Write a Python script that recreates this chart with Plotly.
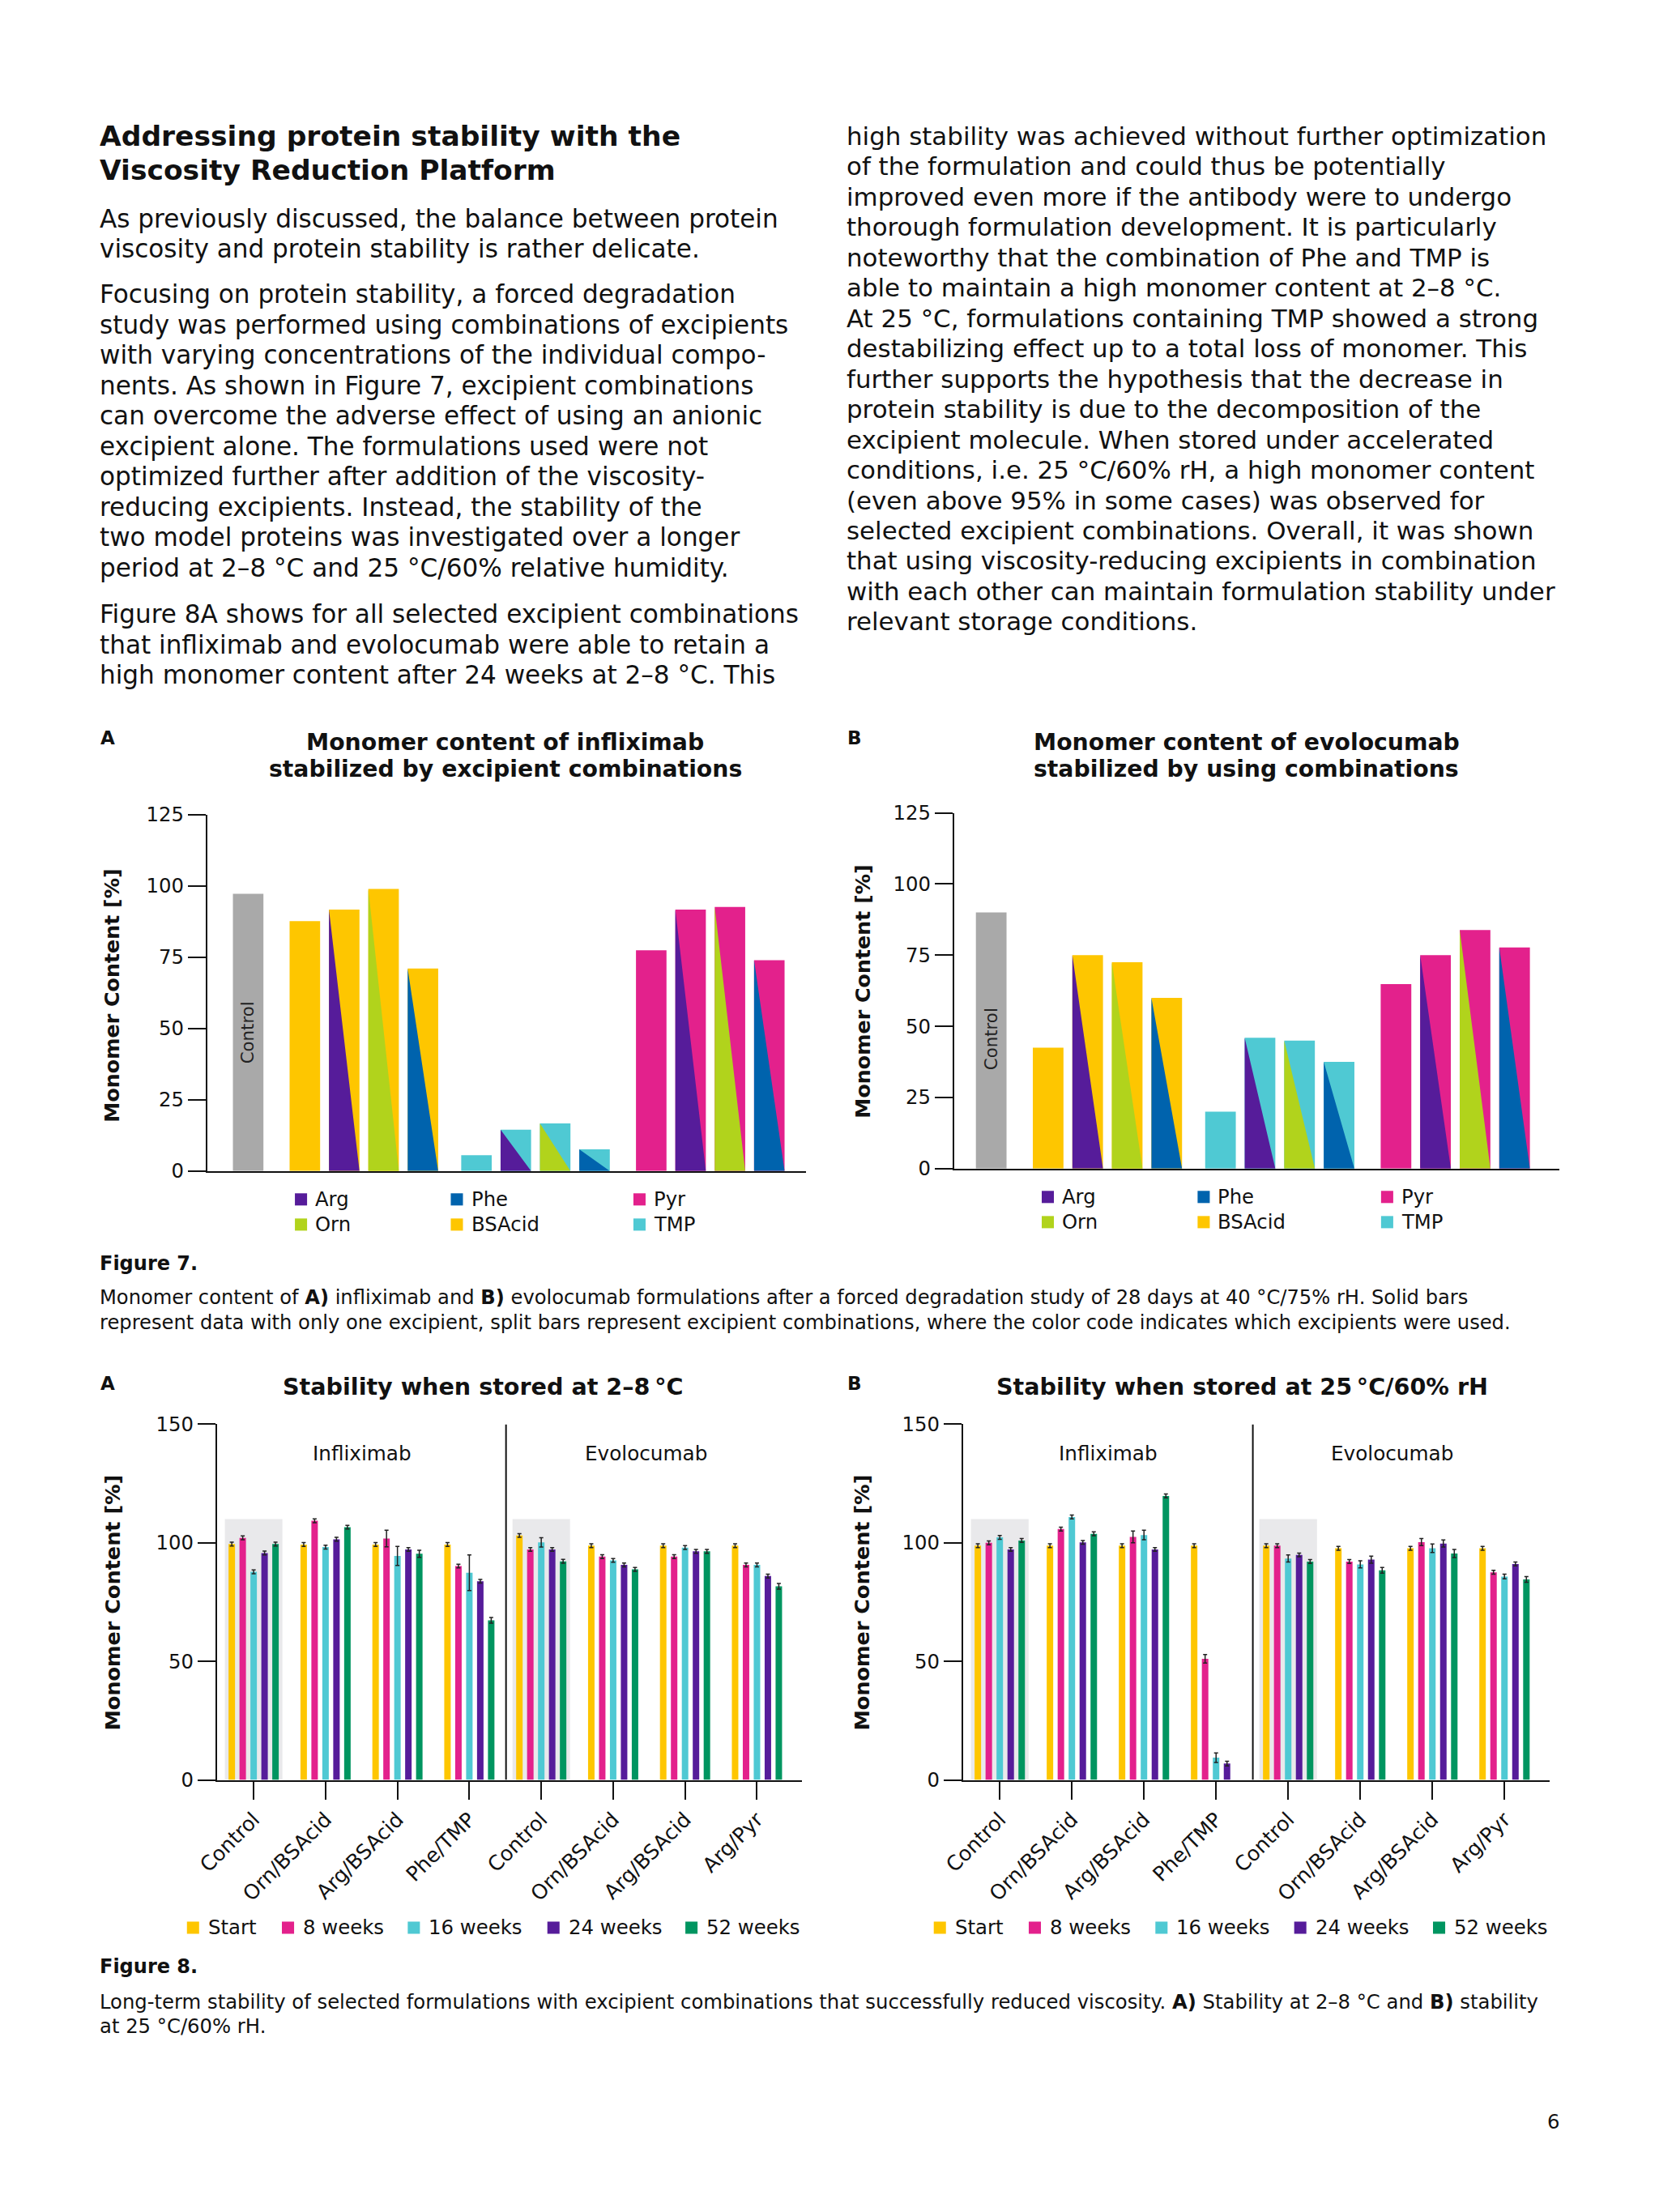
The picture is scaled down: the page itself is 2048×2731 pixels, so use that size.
import plotly.graph_objects as go

W, H = 2048, 2731
FONT = "DejaVu Sans"
INK = "#111111"


# page coordinates (px) -> paper fractions
def X(px):
    return 1.015 * px - 23


def Y(py):
    return 1.0132 * py - 18


def fx(px):
    return X(px) / W


def fy(py):
    return 1 - Y(py) / H


# ---------------- data ----------------
excipient_colors = {
    "Arg": "#561c9a",
    "Orn": "#b1d31c",
    "Phe": "#0063ad",
    "BSAcid": "#fec600",
    "Pyr": "#e3218c",
    "TMP": "#4fc9d3",
    "Control": "#a9a9a9",
}

fig7_labels = ["Control", "BSAcid", "Arg/BSAcid", "Orn/BSAcid", "Phe/BSAcid",
               "TMP", "Arg/TMP", "Orn/TMP", "Phe/TMP",
               "Pyr", "Arg/Pyr", "Orn/Pyr", "Phe/Pyr"]
fig7_group = [0, 1, 1, 1, 1, 2, 2, 2, 2, 3, 3, 3, 3]
infliximab_forced = [97.2, 87.6, 91.7, 98.9, 71.0, 5.5, 14.5, 16.7, 7.6, 77.4, 91.7, 92.6, 73.9]
evolocumab_forced = [90.0, 42.5, 75.0, 72.5, 60.0, 20.0, 46.0, 45.0, 37.5, 64.8, 75.0, 83.8, 77.7]
legend7_cols = [["Arg", "Orn"], ["Phe", "BSAcid"], ["Pyr", "TMP"]]
yticks7 = [0, 25, 50, 75, 100, 125]

groups8 = ["Control", "Orn/BSAcid", "Arg/BSAcid", "Phe/TMP",
           "Control", "Orn/BSAcid", "Arg/BSAcid", "Arg/Pyr"]
timepoints = ["Start", "8 weeks", "16 weeks", "24 weeks", "52 weeks"]
time_colors = ["#fec600", "#e3218c", "#4fc9d3", "#561c9a", "#009560"]
panels8 = ["Infliximab", "Evolocumab"]
yticks8 = [0, 50, 100, 150]

# storage at 2-8 °C
start_2_8 = [99.5, 99.3, 99.3, 99.3, 103.1, 98.8, 98.8, 98.8]
w8_2_8 = [102.1, 109.3, 101.8, 90.2, 97.2, 94.2, 94.2, 90.7]
w16_2_8 = [87.8, 98.2, 94.5, 87.4, 100.2, 92.6, 98.0, 90.7]
w24_2_8 = [95.7, 101.5, 97.2, 83.8, 97.2, 90.7, 96.4, 86.0]
w52_2_8 = [99.5, 106.6, 95.4, 67.3, 92.2, 88.8, 96.4, 81.7]
err_start_2_8 = [0.8, 0.8, 0.8, 0.8, 0.8, 0.8, 0.8, 0.8]
err_w8_2_8 = [0.8, 0.8, 3.5, 0.8, 0.8, 0.8, 0.8, 0.8]
err_w16_2_8 = [0.8, 0.8, 4.0, 7.5, 2.0, 0.8, 0.8, 0.8]
err_w24_2_8 = [0.8, 0.8, 0.8, 0.8, 0.8, 0.8, 0.8, 0.8]
err_w52_2_8 = [0.8, 0.8, 1.5, 1.2, 0.8, 0.8, 0.8, 1.2]

# storage at 25 °C / 60 % rH
start_25 = [98.8, 98.8, 98.8, 98.8, 98.8, 97.7, 97.7, 97.7]
w8_25 = [100.0, 105.8, 102.5, 51.1, 98.8, 92.1, 100.3, 87.6]
w16_25 = [102.3, 110.9, 103.3, 9.4, 93.4, 90.9, 97.7, 85.8]
w24_25 = [97.2, 100.2, 97.2, 6.9, 94.9, 92.9, 99.7, 91.1]
w52_25 = [101.0, 103.8, 119.8, None, 92.1, 88.4, 95.5, 84.6]
err_start_25 = [0.8, 0.8, 0.8, 0.8, 0.8, 0.8, 0.8, 0.8]
err_w8_25 = [0.8, 0.8, 2.5, 1.8, 0.8, 0.8, 1.5, 0.8]
err_w16_25 = [0.8, 0.8, 2.0, 2.0, 1.5, 1.5, 1.8, 1.0]
err_w24_25 = [0.8, 0.8, 0.8, 1.0, 0.8, 1.5, 1.5, 0.8]
err_w52_25 = [0.8, 0.8, 0.8, 0.0, 0.8, 1.2, 1.7, 1.2]

# ---------------- text ----------------
heading = ["Addressing protein stability with the", "Viscosity Reduction Platform"]
para1 = ["As previously discussed, the balance between protein",
         "viscosity and protein stability is rather delicate."]
para2 = ["Focusing on protein stability, a forced degradation",
         "study was performed using combinations of excipients",
         "with varying concentrations of the individual compo-",
         "nents. As shown in Figure 7, excipient combinations",
         "can overcome the adverse effect of using an anionic",
         "excipient alone. The formulations used were not",
         "optimized further after addition of the viscosity-",
         "reducing excipients. Instead, the stability of the",
         "two model proteins was investigated over a longer",
         "period at 2–8 °C and 25 °C/60% relative humidity."]
para3 = ["Figure 8A shows for all selected excipient combinations",
         "that infliximab and evolocumab were able to retain a",
         "high monomer content after 24 weeks at 2–8 °C. This"]
right_col = ["high stability was achieved without further optimization",
             "of the formulation and could thus be potentially",
             "improved even more if the antibody were to undergo",
             "thorough formulation development. It is particularly",
             "noteworthy that the combination of Phe and TMP is",
             "able to maintain a high monomer content at 2–8 °C.",
             "At 25 °C, formulations containing TMP showed a strong",
             "destabilizing effect up to a total loss of monomer. This",
             "further supports the hypothesis that the decrease in",
             "protein stability is due to the decomposition of the",
             "excipient molecule. When stored under accelerated",
             "conditions, i.e. 25 °C/60% rH, a high monomer content",
             "(even above 95% in some cases) was observed for",
             "selected excipient combinations. Overall, it was shown",
             "that using viscosity-reducing excipients in combination",
             "with each other can maintain formulation stability under",
             "relevant storage conditions."]
cap7 = ["Monomer content of <b>A)</b> infliximab and <b>B)</b> evolocumab formulations after a forced degradation study of 28 days at 40 °C/75% rH. Solid bars",
        "represent data with only one excipient, split bars represent excipient combinations, where the color code indicates which excipients were used."]
cap8 = ["Long-term stability of selected formulations with excipient combinations that successfully reduced viscosity. <b>A)</b> Stability at 2–8 °C and <b>B)</b> stability",
        "at 25 °C/60% rH."]

fig = go.Figure()
annotations = []
shapes = []


def text(px, py, s, size, bold=False, xanchor="left", angle=0, color=INK):
    annotations.append(dict(
        x=fx(px), y=fy(py), xref="paper", yref="paper", text=f"<b>{s}</b>" if bold else s,
        showarrow=False, xanchor=xanchor, yanchor="middle", textangle=angle,
        font=dict(family=FONT, size=size, color=color)))


# body text
LS = 37.4
BODY = 31.1
LX, RX = 117, 1038
for i, s in enumerate(heading):
    text(LX, 171 + i * 42, s, 34.5, bold=True)
for i, s in enumerate(para1):
    text(LX, 273 + i * LS, s, BODY)
for i, s in enumerate(para2):
    text(LX, 366 + i * LS, s, BODY)
for i, s in enumerate(para3):
    text(LX, 760 + i * LS, s, BODY)
for i, s in enumerate(right_col):
    text(RX, 171 + i * LS, s, 30.9)

# ---------------- Figure 7 ----------------
group_start7 = [0.0, 1.44, 5.80, 10.24]
BW7 = 0.775
pos7 = []
for i, g in enumerate(fig7_group):
    first = fig7_group.index(g)
    pos7.append(group_start7[g] + (i - first))

panels7 = [
    dict(vals=infliximab_forced, xa="x", ya="y", xdom=(252, 990), ydom=(1446, 1007),
         xr=[-1.04, 14.18], title=["Monomer content of infliximab", "stabilized by excipient combinations"],
         tx=619, letter="A", lx=118, ytx=135, yty=1230, ctrl_y=48.5,
         leg_sq=[360, 552, 777], leg_y=[1481, 1512]),
    dict(vals=evolocumab_forced, xa="x2", ya="y2", xdom=(1172, 1918), ydom=(1443, 1005),
         xr=[-0.94, 14.38], title=["Monomer content of evolocumab", "stabilized by using combinations"],
         tx=1532, letter="B", lx=1039, ytx=1060, yty=1225, ctrl_y=45.6,
         leg_sq=[1280, 1472, 1698], leg_y=[1478, 1509]),
]

for p in panels7:
    top_colors, tri = [], {}
    for lab, x, v in zip(fig7_labels, pos7, p["vals"]):
        parts = lab.split("/")
        top_colors.append(excipient_colors[parts[-1]])
        if len(parts) == 2:
            c = excipient_colors[parts[0]]
            xs, ys = tri.setdefault(c, ([], []))
            xs += [x - BW7 / 2, x - BW7 / 2, x + BW7 / 2, x - BW7 / 2, None]
            ys += [0, v, 0, 0, None]
    fig.add_trace(go.Bar(x=pos7, y=p["vals"], width=BW7, marker=dict(color=top_colors, line=dict(width=0)),
                         xaxis=p["xa"], yaxis=p["ya"], showlegend=False, hoverinfo="skip"))
    for c, (xs, ys) in tri.items():
        fig.add_trace(go.Scatter(x=xs, y=ys, mode="lines", fill="toself", fillcolor=c,
                                 line=dict(width=0, color=c), xaxis=p["xa"], yaxis=p["ya"],
                                 showlegend=False, hoverinfo="skip"))
    text(p["tx"], 918, p["title"][0], 28.3, bold=True, xanchor="center")
    text(p["tx"], 951, p["title"][1], 28.3, bold=True, xanchor="center")
    text(p["lx"], 913, p["letter"], 23, bold=True)
    text(p["ytx"], p["yty"], "Monomer Content [%]", 25.3, bold=True, xanchor="center", angle=-90)
    annotations.append(dict(x=pos7[0], y=p["ctrl_y"], xref=p["xa"], yref=p["ya"], text="Control",
                            showarrow=False, textangle=-90, xanchor="center", yanchor="middle",
                            font=dict(family=FONT, size=21.3, color="#222222")))
    for col, sqx in zip(legend7_cols, p["leg_sq"]):
        for name, ly in zip(col, p["leg_y"]):
            shapes.append(dict(type="rect", xref="paper", yref="paper",
                               x0=fx(sqx), x1=fx(sqx + 15), y0=fy(ly + 7.5), y1=fy(ly - 7.5),
                               fillcolor=excipient_colors[name], line=dict(width=0)))
            text(sqx + 23, ly, name, 24.3)

# ---------------- Figure 8 ----------------
OFF8 = 0.152
BW8 = 0.09
x8 = list(range(len(groups8)))
series_2_8 = [start_2_8, w8_2_8, w16_2_8, w24_2_8, w52_2_8]
errs_2_8 = [err_start_2_8, err_w8_2_8, err_w16_2_8, err_w24_2_8, err_w52_2_8]
series_25 = [start_25, w8_25, w16_25, w24_25, w52_25]
errs_25 = [err_start_25, err_w8_25, err_w16_25, err_w24_25, err_w52_25]

panels8_cfg = [
    dict(series=series_2_8, errs=errs_2_8, xa="x3", ya="y3", xdom=(264, 985),
         title="Stability when stored at 2–8\u2009°C", tx=591, letter="A", lx=118, ytx=135,
         hx=[443, 793], leg=[227, 344, 499, 671, 841]),
    dict(series=series_25, errs=errs_25, xa="x4", ya="y4", xdom=(1183, 1906),
         title="Stability when stored at 25\u2009°C/60% rH", tx=1527, letter="B", lx=1039, ytx=1058,
         hx=[1362, 1712], leg=[1147, 1264, 1420, 1591, 1762]),
]
YD8 = (2196, 1758)

for p in panels8_cfg:
    for box in ([-0.4, 0.4], [3.6, 4.4]):
        shapes.append(dict(type="rect", xref=p["xa"], yref=p["ya"], x0=box[0], x1=box[1], y0=0, y1=110,
                           fillcolor="#e9e9eb", line=dict(width=0), layer="below"))
    shapes.append(dict(type="line", xref=p["xa"], yref=p["ya"], x0=3.51, x1=3.51, y0=0, y1=150,
                       line=dict(color="#111111", width=2)))
    for j, (tp, vals, err) in enumerate(zip(timepoints, p["series"], p["errs"])):
        fig.add_trace(go.Bar(
            x=[g + (j - 2) * OFF8 for g in x8], y=vals, width=BW8,
            marker=dict(color=time_colors[j], line=dict(width=0)),
            error_y=dict(type="data", array=err, visible=True, color="#222222", thickness=1.5, width=2.5),
            xaxis=p["xa"], yaxis=p["ya"], showlegend=False, hoverinfo="skip", name=tp))
    text(p["tx"], 1712, p["title"], 28.6, bold=True, xanchor="center")
    text(p["lx"], 1708, p["letter"], 23, bold=True)
    text(p["ytx"], 1978, "Monomer Content [%]", 25.5, bold=True, xanchor="center", angle=-90)
    for hx, name in zip(p["hx"], panels8):
        text(hx, 1794, name, 24.7, xanchor="center")
    for sqx, name, c in zip(p["leg"], timepoints, time_colors):
        shapes.append(dict(type="rect", xref="paper", yref="paper",
                           x0=fx(sqx), x1=fx(sqx + 15), y0=fy(2378 + 7.5), y1=fy(2378 - 7.5),
                           fillcolor=c, line=dict(width=0)))
        text(sqx + 24, 2378, name, 24.4)

# captions
text(LX, 1560, "Figure 7.", 24, bold=True)
for i, s in enumerate(cap7):
    text(LX, 1602 + i * 31, s, 24.2)
text(LX, 2426, "Figure 8.", 24, bold=True)
for i, s in enumerate(cap8):
    text(LX, 2469 + i * 30, s, 24.3)
text(1910, 2617, "6", 24.3, xanchor="center")

# ---------------- axes ----------------
axis_common = dict(showgrid=False, zeroline=False, showline=True, linecolor="#111111", linewidth=2,
                   fixedrange=True)
layout_axes = {}
for i, p in enumerate(panels7):
    n = "" if i == 0 else str(i + 1)
    layout_axes["xaxis" + n] = dict(axis_common, domain=[fx(p["xdom"][0]), fx(p["xdom"][1])], range=p["xr"],
                                    ticks="", showticklabels=False, anchor="y" + n)
    layout_axes["yaxis" + n] = dict(axis_common, domain=[fy(p["ydom"][0]), fy(p["ydom"][1])], range=[0, 125],
                                    tickvals=yticks7, ticks="outside", ticklen=22, tickwidth=2,
                                    tickcolor="#111111", tickfont=dict(family=FONT, size=24.3, color=INK),
                                    anchor="x" + n)
for i, p in enumerate(panels8_cfg):
    n = str(i + 3)
    layout_axes["xaxis" + n] = dict(axis_common, domain=[fx(p["xdom"][0]), fx(p["xdom"][1])],
                                    range=[-0.51, 7.63], tickvals=x8, ticktext=groups8, tickangle=-45,
                                    ticks="outside", ticklen=22, tickwidth=2, tickcolor="#111111",
                                    tickfont=dict(family=FONT, size=25.3, color=INK), anchor="y" + n)
    layout_axes["yaxis" + n] = dict(axis_common, domain=[fy(YD8[0]), fy(YD8[1])], range=[0, 150],
                                    tickvals=yticks8, ticks="outside", ticklen=22, tickwidth=2,
                                    tickcolor="#111111", tickfont=dict(family=FONT, size=24.3, color=INK),
                                    anchor="x" + n)

fig.update_layout(width=W, height=H, margin=dict(l=0, r=0, t=0, b=0), paper_bgcolor="white",
                  plot_bgcolor="rgba(0,0,0,0)", barmode="overlay", showlegend=False,
                  annotations=annotations, shapes=shapes, font=dict(family=FONT, color=INK),
                  **layout_axes)

fig.write_html("out.html", config={"displayModeBar": False},
               post_script="document.body.style.margin='0';document.body.style.overflow='hidden';")
